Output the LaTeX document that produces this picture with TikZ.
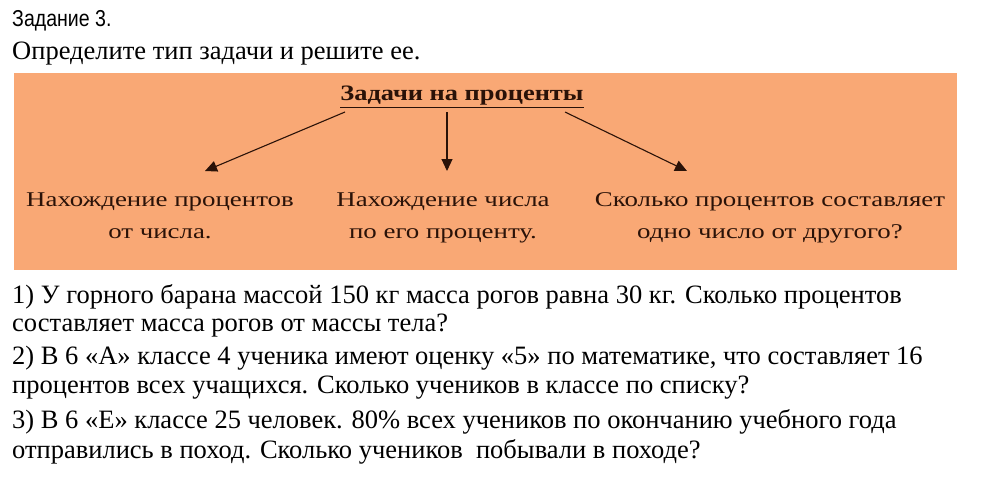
\documentclass[tikz,border=0pt]{standalone}
\usepackage{fontspec}
\setmainfont{Liberation Serif}
\newfontfamily\titlefont{Liberation Sans}
\usetikzlibrary{arrows.meta}
\definecolor{boxor}{HTML}{F9A875}
\definecolor{ink}{HTML}{2A1208}
\tikzset{
 body/.style={anchor=west,inner sep=0pt,font=\fontsize{26.5}{30}\selectfont},
 cat/.style={align=center,inner sep=0pt,anchor=north,text=ink,font=\fontsize{21}{32}\addfontfeature{FakeStretch=1.28}\selectfont},
 arr/.style={draw=ink,line width=1.1pt,-{Triangle[length=12pt,width=11pt]}}
}
\begin{document}
\begin{tikzpicture}[x=1pt,y=-1pt]
\useasboundingbox (0,0) rectangle (991,485);
\fill[white] (0,0) rectangle (991,485);
\node[body,font=\titlefont\fontsize{23}{26}\addfontfeature{FakeStretch=0.85}\selectfont] (t) at (12,21) {Задание 3.};
\node[body] (s) at (12,54) {Определите тип задачи и решите ее.};
\fill[boxor] (14,73) rectangle (957,270);
\node[inner sep=0pt,text=ink,font=\bfseries\fontsize{22}{24}\addfontfeature{FakeStretch=1.2}\selectfont] (h) at (462,97) {\underline{Задачи на проценты}};
\coordinate (hl) at (345,112);
\coordinate (hm) at (447,112);
\coordinate (hr) at (565,112);
\node[cat] (c1) at (160,184) {\strut Нахождение процентов\\\strut от числа.};
\node[cat] (c2) at (443,184) {\strut Нахождение числа\\\strut по его проценту.};
\node[cat] (c3) at (770,184) {\strut Сколько процентов составляет\\\strut одно число от другого?};
\coordinate (e1) at (205,171);
\coordinate (e2) at (447,171);
\coordinate (e3) at (687,171);
\draw[arr] (hl) -- (e1);
\draw[arr] (hm) -- (e2);
\draw[arr] (hr) -- (e3);
\node[body] (p1) at (12,297) {1) У горного барана массой 150 кг масса рогов равна 30 кг. Сколько процентов};
\node[body] (p2) at (12,326) {составляет масса рогов от массы тела?};
\node[body] (p3) at (12,358) {2) В 6 «А» классе 4 ученика имеют оценку «5» по математике, что составляет 16};
\node[body] (p4) at (12,388) {процентов всех учащихся. Сколько учеников в классе по списку?};
\node[body] (p5) at (12,422) {3) В 6 «Е» классе 25 человек. 80\% всех учеников по окончанию учебного года};
\node[body] (p6) at (12,452) {отправились в поход. Сколько учеников\ \ побывали в походе?};
\end{tikzpicture}
\end{document}
